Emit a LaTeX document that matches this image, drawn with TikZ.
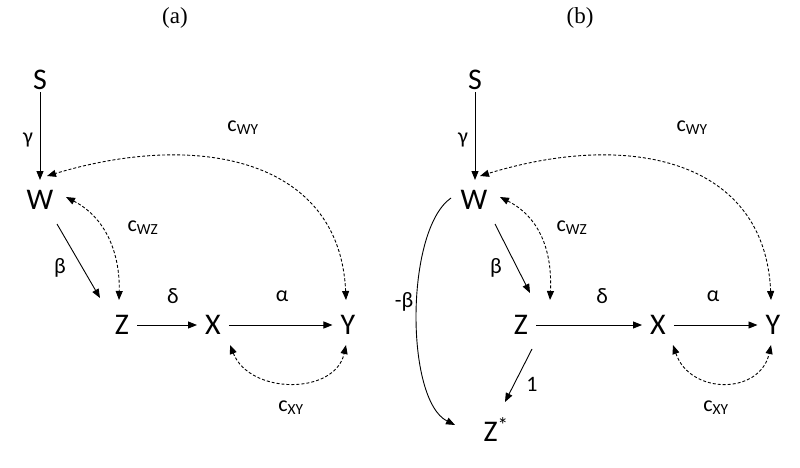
\documentclass[tikz,border=0pt]{standalone}
\usepackage{fontspec}
\setmainfont{Carlito}
\newfontfamily\capfont{Liberation Serif}
\usetikzlibrary{arrows.meta}
\begin{document}
\begin{tikzpicture}[x=1pt,y=-1pt,
  var/.style={font=\fontsize{30}{32}\selectfont,inner sep=2pt},
  lab/.style={font=\fontsize{22}{24}\selectfont,inner sep=1pt},
  captext/.style={font=\capfont\fontsize{23}{25}\selectfont},
  arr/.style={-{Triangle[length=9pt,width=7pt]},line width=0.9pt},
  harr/.style={arr,shorten <=6pt,shorten >=6pt},
  darr/.style={{Triangle[length=9pt,width=7pt]}-{Triangle[length=9pt,width=7pt]},line width=0.9pt,dash pattern=on 3pt off 2pt}]
\useasboundingbox (0,0) rectangle (800,468);
\node[captext] (ca) at (175,18) {(a)};
\node[captext] (cb) at (580,18) {(b)};
% (a)
\node[var] (S) at (40,80) {S};
\node[var] (W) at (40,200) {W};
\node[var] (Z) at (122,325) {Z};
\node[var] (X) at (213,325) {X};
\node[var] (Y) at (348,325) {Y};
\draw[arr] (S.south) -- (40,180);
\draw[darr] (346,300) .. controls (340,160) and (200,130) .. (47,176);
\draw[darr] (66,197) .. controls (110,220) and (120,260) .. (119,300);
\draw[arr] (57,224) -- (100,298);
\draw[harr] (Z) -- (X);
\draw[harr] (X) -- (Y);
\draw[darr] (230,345) .. controls (250,395) and (335,395) .. (346,345);
\node[lab] (ga) at (28,140) {γ};
\node[lab] (cwya) at (243,128) {c\textsubscript{WY}};
\node[lab] (cwza) at (143,228) {c\textsubscript{WZ}};
\node[lab] (ba) at (60,268) {β};
\node[lab] (da) at (173,296) {δ};
\node[lab] (aa) at (282,296) {α};
\node[lab] (cxya) at (291,408) {c\textsubscript{XY}};
% (b)
\node[var] (S2) at (475,80) {S};
\node[var] (W2) at (474,200) {W};
\node[var] (Z2) at (521,325) {Z};
\node[var] (Zs) at (496,430) {Z\textsuperscript{*}};
\node[var] (X2) at (658,325) {X};
\node[var] (Y2) at (773,325) {Y};
\draw[arr] (S2.south) -- (475,180);
\draw[darr] (771,300) .. controls (765,160) and (630,130) .. (480,176);
\draw[darr] (500,197) .. controls (545,220) and (552,260) .. (550,300);
\draw[arr] (495,224) -- (530,293);
\draw[harr] (Z2) -- (X2);
\draw[harr] (X2) -- (Y2);
\draw[darr] (673,345) .. controls (690,395) and (760,395) .. (771,345);
\draw[arr] (451,198) .. controls (405,230) and (405,400) .. (455,425);
\draw[arr] (532,349) -- (505,402);
\node[lab] (gb) at (463,140) {γ};
\node[lab] (cwyb) at (692,128) {c\textsubscript{WY}};
\node[lab] (cwzb) at (572,228) {c\textsubscript{WZ}};
\node[lab] (bb) at (496,268) {β};
\node[lab] (mb) at (404,302) {-β};
\node[lab] (db) at (602,296) {δ};
\node[lab] (ab) at (713,296) {α};
\node[lab] (one) at (532,384) {1};
\node[lab] (cxyb) at (716,408) {c\textsubscript{XY}};
\end{tikzpicture}
\end{document}
